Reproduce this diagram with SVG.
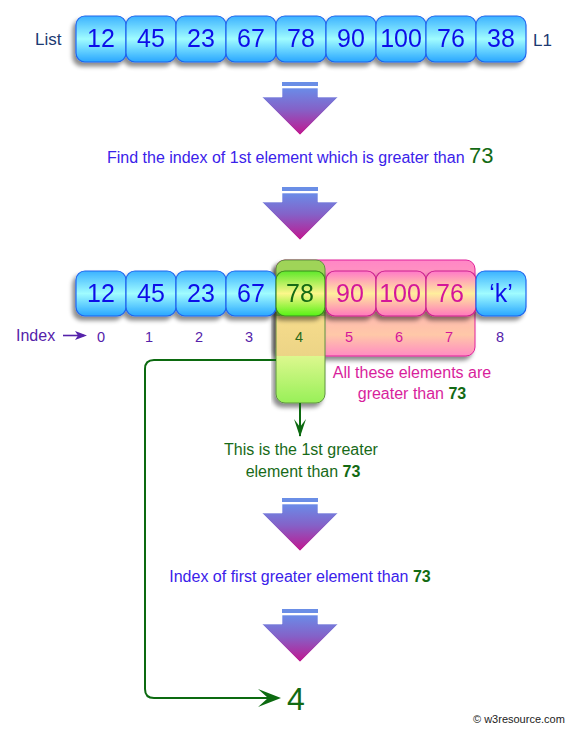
<svg xmlns="http://www.w3.org/2000/svg" width="579" height="734" viewBox="0 0 579 734">
<defs>
<linearGradient id="gBlue" x1="0" y1="0" x2="0" y2="1">
<stop offset="0" stop-color="#3cb2ff"/><stop offset="0.5" stop-color="#a0fcff"/><stop offset="1" stop-color="#28a6ff"/>
</linearGradient>
<linearGradient id="gPink" x1="0" y1="0" x2="0" y2="1">
<stop offset="0" stop-color="#ff78c8"/><stop offset="0.5" stop-color="#ffee9c"/><stop offset="1" stop-color="#ff78bc"/>
</linearGradient>
<linearGradient id="gGreen" x1="0" y1="0" x2="0" y2="1">
<stop offset="0" stop-color="#5ee82a"/><stop offset="0.5" stop-color="#fcf78a"/><stop offset="1" stop-color="#55f214"/>
</linearGradient>
<linearGradient id="gPinkBg" x1="0" y1="0" x2="0" y2="1">
<stop offset="0" stop-color="#ff86c6"/><stop offset="0.55" stop-color="#ffb8b0"/><stop offset="0.78" stop-color="#ffc8a8"/><stop offset="1" stop-color="#ff8cc2"/>
</linearGradient>
<linearGradient id="gCol" x1="0" y1="0" x2="0" y2="1">
<stop offset="0" stop-color="#9fd458"/><stop offset="0.39" stop-color="#9fd458"/>
<stop offset="0.39" stop-color="#f6dc8c"/><stop offset="0.67" stop-color="#ecd486"/>
<stop offset="0.672" stop-color="#dcf88e"/><stop offset="1" stop-color="#98f058"/>
</linearGradient>
<linearGradient id="gArrow" x1="0" y1="0" x2="0" y2="1">
<stop offset="0" stop-color="#6a8ce8"/><stop offset="0.45" stop-color="#8462c8"/><stop offset="1" stop-color="#c2168e"/>
</linearGradient>
<filter id="sh" x="-10%" y="-20%" width="120%" height="160%">
<feDropShadow dx="-3" dy="4" stdDeviation="2.2" flood-color="#000" flood-opacity="0.45"/>
</filter>
<g id="arrow">
<rect x="282" y="0" width="36" height="4" fill="#6a8ee6"/>
<polygon points="282,6 318,6 318,15 338,15 300,53 262,15 282,15" fill="url(#gArrow)" stroke="#fff" stroke-width="0.6"/>
</g>
</defs>
<style>
text{font-family:"Liberation Sans","DejaVu Sans",Arial,sans-serif}
.bx{stroke:#1f66ee;stroke-width:1.2;fill:url(#gBlue)}
.pk{stroke:#cc2290;stroke-width:1.2;fill:url(#gPink)}
.gr{stroke:#3c8c1e;stroke-width:1.2;fill:url(#gGreen)}
.num{font-size:25px;text-anchor:middle}
.nb{fill:#1010e8}.nm{fill:#d4169a}.ng{fill:#136a13}
.idx{font-size:14.5px;text-anchor:middle}
.t{font-size:16px}
.b73{fill:#136a13;font-weight:bold}
.lbl{font-size:17px;fill:#1d3a72}
.conn{fill:none;stroke:#0c6a10;stroke-width:2}
</style>

<text class="lbl" x="35" y="45" font-size="16">List</text>
<text class="lbl" x="533" y="46">L1</text>

<g id="row1" filter="url(#sh)">
<g id="r1b0"><rect class="bx" x="76" y="16" width="50" height="46" rx="9"/><text class="num nb" x="101" y="47">12</text></g>
<g id="r1b1"><rect class="bx" x="126" y="16" width="50" height="46" rx="9"/><text class="num nb" x="151" y="47">45</text></g>
<g id="r1b2"><rect class="bx" x="176" y="16" width="50" height="46" rx="9"/><text class="num nb" x="201" y="47">23</text></g>
<g id="r1b3"><rect class="bx" x="226" y="16" width="50" height="46" rx="9"/><text class="num nb" x="251" y="47">67</text></g>
<g id="r1b4"><rect class="bx" x="276" y="16" width="50" height="46" rx="9"/><text class="num nb" x="301" y="47">78</text></g>
<g id="r1b5"><rect class="bx" x="326" y="16" width="50" height="46" rx="9"/><text class="num nb" x="351" y="47">90</text></g>
<g id="r1b6"><rect class="bx" x="376" y="16" width="50" height="46" rx="9"/><text class="num nb" x="401" y="47">100</text></g>
<g id="r1b7"><rect class="bx" x="426" y="16" width="50" height="46" rx="9"/><text class="num nb" x="451" y="47">76</text></g>
<g id="r1b8"><rect class="bx" x="476" y="16" width="50" height="46" rx="9"/><text class="num nb" x="501" y="47">38</text></g>
</g>

<use id="arrow1" href="#arrow" transform="translate(0,82)"/>

<g id="step1">
<text class="t" x="107" y="163" fill="#3a22ea">Find the index of 1st element which is greater than <tspan fill="#136a13" font-size="22">73</tspan></text>
</g>

<use id="arrow2" href="#arrow" transform="translate(0,187)"/>

<g id="greaterBand" filter="url(#sh)">
<rect x="276" y="260" width="199" height="96" rx="9" fill="url(#gPinkBg)" stroke="#e0209a" stroke-width="1"/>
</g>
<g id="firstColumn" filter="url(#sh)">
<rect x="276" y="260" width="49" height="143" rx="9" fill="url(#gCol)" stroke="#5e9240" stroke-width="1"/>
</g>

<g id="row2" filter="url(#sh)">
<g id="r2b0"><rect class="bx" x="76" y="271" width="50" height="45" rx="9"/><text class="num nb" x="101" y="302">12</text></g>
<g id="r2b1"><rect class="bx" x="126" y="271" width="50" height="45" rx="9"/><text class="num nb" x="151" y="302">45</text></g>
<g id="r2b2"><rect class="bx" x="176" y="271" width="50" height="45" rx="9"/><text class="num nb" x="201" y="302">23</text></g>
<g id="r2b3"><rect class="bx" x="226" y="271" width="50" height="45" rx="9"/><text class="num nb" x="251" y="302">67</text></g>
<g id="r2b4"><rect class="gr" x="276" y="271" width="49" height="45" rx="9"/><text class="num ng" x="300" y="302">78</text></g>
<g id="r2b5"><rect class="pk" x="326" y="271" width="50" height="45" rx="9"/><text class="num nm" x="350" y="302">90</text></g>
<g id="r2b6"><rect class="pk" x="376" y="271" width="50" height="45" rx="9"/><text class="num nm" x="400" y="302">100</text></g>
<g id="r2b7"><rect class="pk" x="426" y="271" width="50" height="45" rx="9"/><text class="num nm" x="450" y="302">76</text></g>
<g id="r2b8"><rect class="bx" x="476" y="271" width="50" height="45" rx="9"/><text class="num nb" x="501" y="302">‘k’</text></g>
</g>

<g id="indexRow">
<text x="16" y="341" fill="#5522aa" font-size="16">Index</text>
<line x1="63" y1="335.5" x2="84" y2="335.5" stroke="#5522aa" stroke-width="1.6"/>
<path d="M87,335.5 L75,331 L78,335.5 L75,340 Z" fill="#5522aa"/>
<text class="idx" x="101" y="342" fill="#5522aa">0</text>
<text class="idx" x="149" y="342" fill="#5522aa">1</text>
<text class="idx" x="199" y="342" fill="#5522aa">2</text>
<text class="idx" x="249" y="342" fill="#5522aa">3</text>
<text class="idx" x="299" y="342" fill="#2c6a1a">4</text>
<text class="idx" x="349" y="342" fill="#d4169a">5</text>
<text class="idx" x="399" y="342" fill="#d4169a">6</text>
<text class="idx" x="449" y="342" fill="#d4169a">7</text>
<text class="idx" x="500" y="342" fill="#5522aa">8</text>
</g>

<g id="note1">
<text class="t" x="412" y="378" fill="#d81e9c" text-anchor="middle">All these elements are</text>
<text class="t" x="412" y="399" fill="#d81e9c" text-anchor="middle">greater than <tspan class="b73">73</tspan></text>
</g>

<g id="connectors">
<path class="conn" d="M300,403 V436"/>
<path d="M300,437 L294,419 L300,427 L306,419 Z" fill="#0c6a10"/>
<path class="conn" d="M276,360 H154 Q145,360 145,369 V689 Q145,698 154,698 H278"/>
<path d="M281,698 L258,689 L268,698 L258,707 Z" fill="#0c6a10"/>
</g>

<g id="note2">
<text class="t" x="301" y="455" fill="#186a18" text-anchor="middle">This is the 1st greater</text>
<text class="t" x="303" y="477" fill="#186a18" text-anchor="middle">element than <tspan class="b73">73</tspan></text>
</g>

<use id="arrow3" href="#arrow" transform="translate(0,498)"/>

<g id="step3">
<text class="t" x="300" y="582" fill="#3a22ea" text-anchor="middle">Index of first greater element than <tspan class="b73">73</tspan></text>
</g>

<use id="arrow4" href="#arrow" transform="translate(0,609)"/>

<g id="result">
<text x="287" y="710" fill="#136a13" font-size="32">4</text>
</g>

<text x="473" y="723" fill="#222" font-size="11">© w3resource.com</text>
</svg>
